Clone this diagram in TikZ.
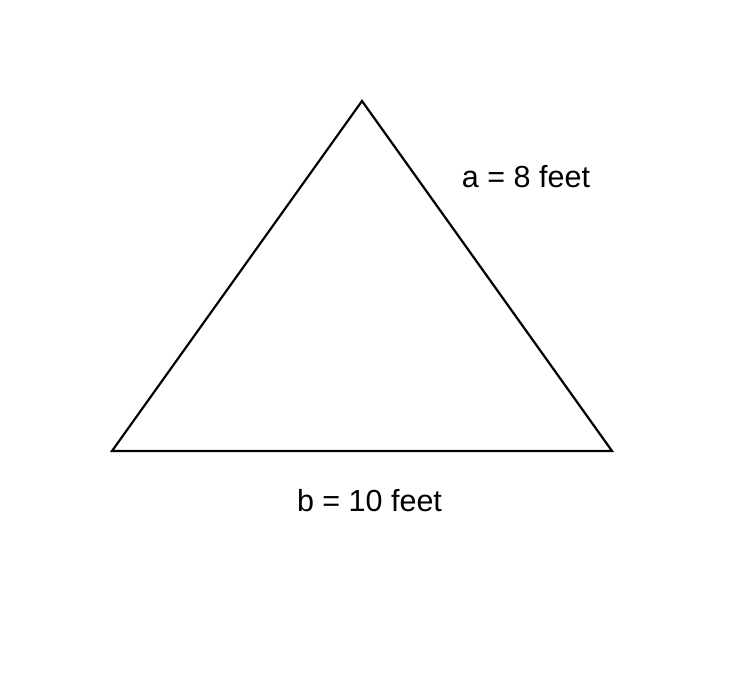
\documentclass[tikz,border=0pt]{standalone}
\usepackage{fontspec}
\setmainfont{Liberation Sans}
\begin{document}
\begin{tikzpicture}[x=1pt,y=-1pt,
  edge/.style={line width=2.2pt, line join=miter},
  lbl/.style={font=\fontsize{30.5}{36}\selectfont, inner sep=0pt, anchor=base}]
\useasboundingbox (0,0) rectangle (741,684);
\coordinate (A) at (362,101);
\coordinate (L) at (112,451);
\coordinate (R) at (612,451);
\draw[edge] (A) -- (R) -- (L) -- cycle;
\node[lbl] (la) at (526,188) {a = 8 feet};
\node[lbl] (lb) at (369.5,511) {b = 10 feet};
\end{tikzpicture}
\end{document}
